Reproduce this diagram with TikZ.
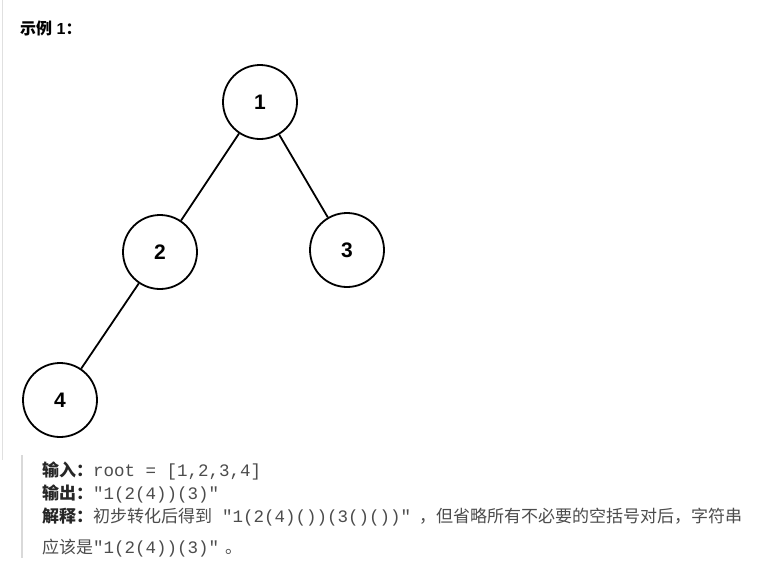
\documentclass[tikz,border=0pt]{standalone}
\usepackage{fontspec}
\setmainfont{Liberation Sans}
\newfontfamily\cjk{Noto Sans CJK SC}
\newfontfamily\mono{Liberation Mono}
\begin{document}
\begin{tikzpicture}[x=1pt,y=-1pt,
  tn/.style={circle,draw=black,line width=1.8pt,minimum size=74pt,inner sep=0pt,font=\fontsize{21}{24}\selectfont\bfseries},
  ed/.style={line width=1.8pt},
  tl/.style={anchor=base west,inner sep=0pt,text=black!70,font=\fontsize{17}{19}\selectfont}]
\useasboundingbox (0,0) rectangle (781,568);
\fill[white] (0,0) rectangle (781,568);
\draw[black!12,line width=1pt] (2,0) -- (2,460);
\node[anchor=base west,inner sep=0pt,font=\fontsize{16}{18}\selectfont] (title) at (20,34) {{\cjk\bfseries 示例} \textbf{1}{\cjk\bfseries ：}};
\node[tn] (n1) at (260,102) {1};
\node[tn] (n2) at (160,252) {2};
\node[tn] (n3) at (347,250) {3};
\node[tn] (n4) at (60,400) {4};
\draw[ed] (n1) -- (n2);
\draw[ed] (n1) -- (n3);
\draw[ed] (n2) -- (n4);
\draw[black!15,line width=2pt] (22,455) -- (22,558);
\node[tl] (l1) at (42,476) {{\cjk\bfseries\color{black!85}输入：}{\mono\fontsize{17.5}{19}\selectfont root = [1,2,3,4]}};
\node[tl] (l2) at (42,499) {{\cjk\bfseries\color{black!85}输出：}{\mono\fontsize{17.5}{19}\selectfont "1(2(4))(3)"}};
\node[tl] (l3) at (42,522) {{\cjk\bfseries\color{black!85}解释：}{\cjk 初步转化后得到}\hspace{10pt}{\mono\fontsize{17.5}{19}\selectfont "1(2(4)())(3()())"}\hspace{8pt}{\cjk ，但省略所有不必要的空括号对后，字符串}};
\node[tl] (l4) at (42,553) {{\cjk 应该是}{\mono\fontsize{17.5}{19}\selectfont "1(2(4))(3)"}\hspace{6pt}{\cjk 。}};
\end{tikzpicture}
\end{document}
